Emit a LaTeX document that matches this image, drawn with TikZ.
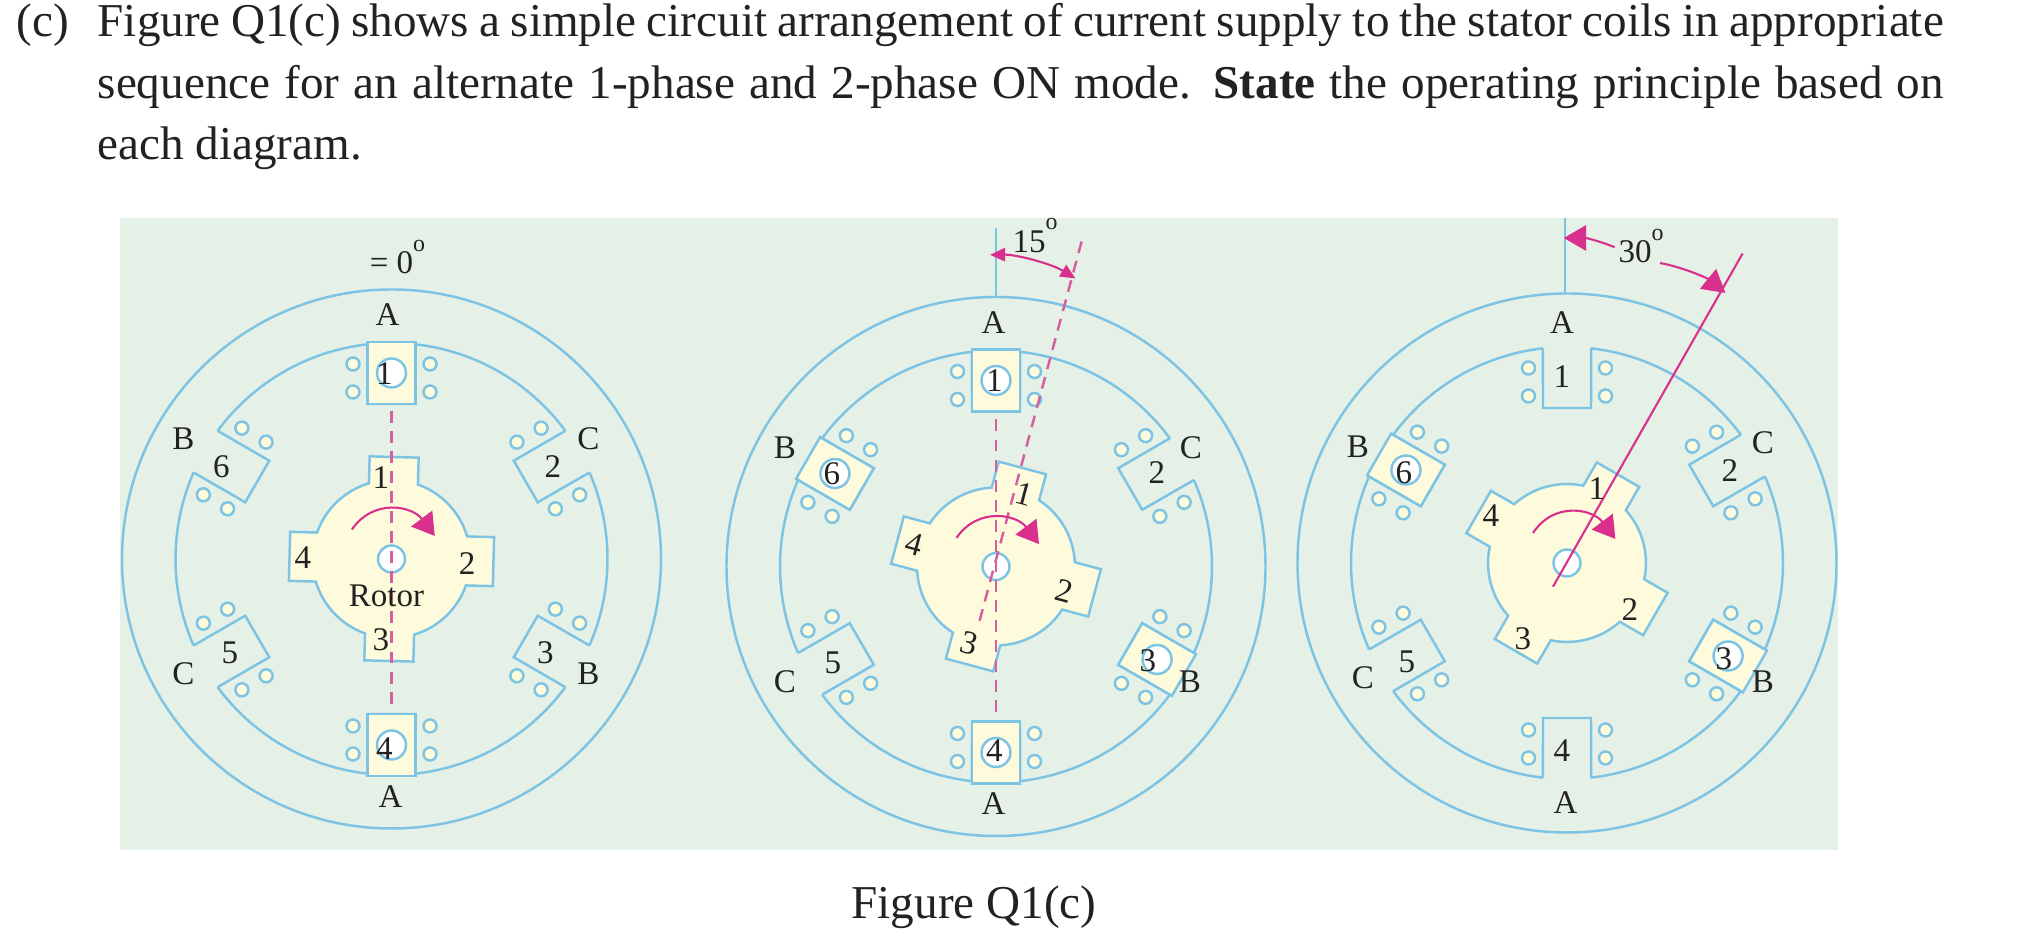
\documentclass[tikz,border=0pt]{standalone}
\usepackage{fontspec}
\setmainfont{Liberation Serif}
\usetikzlibrary{arrows.meta}

\definecolor{panelgreen}{HTML}{E5F0E6}
\definecolor{statorblue}{HTML}{7DC3E4}
\definecolor{polecream}{HTML}{FDFBDB}
\definecolor{markpink}{HTML}{D9308D}
\definecolor{dashpink}{HTML}{D6609F}
\definecolor{inkgray}{HTML}{222222}

\tikzset{
  bodytext/.style={anchor=base west,inner sep=0pt,text=inkgray,font=\fontsize{13.4}{16}\selectfont},
  partlabel/.style={inner sep=0pt,text=inkgray,font=\fontsize{9.4}{11}\selectfont},
  statorline/.style={draw=statorblue,line width=0.7pt},
  polefill/.style={statorline,fill=polecream},
  rotorarrow/.style={draw=markpink,line width=0.6pt,-{Triangle[length=6.2pt,width=7.4pt]}},
  smallangle/.style={draw=markpink,line width=0.6pt,{Triangle[length=4.3pt,width=3.8pt]}-{Triangle[length=4.3pt,width=3.8pt]}},
  bigangle/.style={draw=markpink,line width=0.6pt,-{Triangle[length=6.4pt,width=7.2pt]}},
  pinkdash/.style={draw=dashpink,line width=0.7pt,dash pattern=on 3.4pt off 2.3pt},
  pinksolid/.style={draw=markpink,line width=0.6pt}
}

\newcommand{\degmark}{\raisebox{6.5pt}{\fontsize{6.8}{8}\selectfont o}}

% #1 = poles that carry current
\newcommand{\statorpart}[1]{
  \draw[statorline] (0,0) circle[radius=269.5];
  \foreach \p in {90,30,-30,-90,-150,150} {
    \draw[statorline,rotate=\p] (6.4:216) -- (155,24) -- (155,-24) -- (-6.4:216);
    \draw[statorline,rotate=\p] (6.4:216) arc[start angle=6.4,end angle=53.6,radius=216];
    \foreach \r/\s in {195/38.5,167/38.5,195/-38.5,167/-38.5}
      \draw[statorline,fill=polecream,rotate=\p] (\r,\s) circle[radius=6.5];
  }
  \foreach \p in {#1} {
    \draw[polefill,rotate=\p] (217,24) -- (155,24) -- (155,-24) -- (217,-24) -- cycle;
    \draw[statorline,fill=white,rotate=\p] (186,0) circle[radius=14.5];
  }
}

% #1 = rotor angle
\newcommand{\rotorpart}[1]{
  \draw[polefill,rotate=#1] (75.1,24.5) -- (102,24.5) -- (102,-24.5) -- (75.1,-24.5)
    arc[start angle=-18.1,end angle=-71.9,radius=79] -- (24.5,-102) -- (-24.5,-102) -- (-24.5,-75.1)
    arc[start angle=-108.1,end angle=-161.9,radius=79] -- (-102,-24.5) -- (-102,24.5) -- (-75.1,24.5)
    arc[start angle=161.9,end angle=108.1,radius=79] -- (-24.5,102) -- (24.5,102) -- (24.5,75.1)
    arc[start angle=71.9,end angle=18.1,radius=79] -- cycle;
  \draw[statorline,fill=white] (0,0) circle[radius=13.5];
}

\begin{document}
\begin{tikzpicture}[x=0.01cm,y=0.01cm]
  \useasboundingbox (0,0) rectangle (2020,940);
  \fill[white] (0,0) rectangle (2020,940);

  \node[bodytext] (tag) at (16,903) {(c)};
  \node[bodytext] (line1) at (97,903) {\makebox[18.45cm][s]{Figure Q1(c) shows a simple circuit arrangement of current supply to the stator coils in appropriate}};
  \node[bodytext] (line2) at (97,841) {\makebox[18.45cm][s]{sequence for an alternate 1-phase and 2-phase ON mode. \textbf{State} the operating principle based on}};
  \node[bodytext] (line3) at (97,780) {each diagram.};

  \fill[panelgreen] (120,90) rectangle (1838,722);

  \node[bodytext,anchor=base] (caption) at (974,21) {Figure Q1(c)};

  % rotor at 0
  \begin{scope}[shift={(391.5,381)}]
    \statorpart{90,-90}
    \rotorpart{-1.5}
    \draw[pinkdash] (0,148) -- (0,-145);
    \draw[rotorarrow] (-39.6,29.5) .. controls (-18,61) and (20.7,53) .. (43.3,23);
    \foreach \nx/\ny/\lab/\nm in {-4/244/A/atop,-1/-238/A/abot,-208/120/B/bleft,197/120/C/cright,
        -208/-114.5/C/cleft,197/-114.5/B/bright,-7/185/1/s1,-7/-190/4/s4,161.5/92.5/2/s2,
        154/-94/3/s3,-161.5/-94/5/s5,-170/92.5/6/s6,-10.5/81/1/r1,75.6/-4.5/2/r2,
        -10.5/-80.5/3/r3,-88.7/1/4/r4,-5/-37/Rotor/rname}
      \node[partlabel] (one\nm) at (\nx,\ny) {\lab};
    \node[partlabel] (onedeg) at (6,302) {= 0\degmark};
  \end{scope}

  % rotor at 15
  \begin{scope}[shift={(996,373.5)}]
    \statorpart{90,-90,150,-30}
    \rotorpart{-15}
    \draw[statorline] (0,338) -- (0,270);
    \draw[pinkdash] (0,147) -- (0,-146);
    \draw[pinkdash] (85.6,325) -- (-17,-56.4);
    \draw[smallangle] (-6,311.6) .. controls (20,312) and (55,303) .. (79.5,288);
    \draw[rotorarrow] (-39.5,28.6) .. controls (-18,60) and (20.7,52) .. (43,22.4);
    \foreach \nx/\ny/\lab/\nm in {-2.4/243.6/A/atop,-2.4/-237/A/abot,-211/119/B/bleft,195/119/C/cright,
        -211/-115/C/cleft,194/-115/B/bright,-1.6/186/1/s1,-1.6/-184/4/s4,161/94/2/s2,
        152/-94/3/s3,-163/-96/5/s5,-164/93/6/s6}
      \node[partlabel] (two\nm) at (\nx,\ny) {\lab};
    \foreach \nx/\ny/\lab/\nm in {28.5/72/1/r1,68.5/-25/2/r2,-27/-77/3/r3,-82/22.4/4/r4}
      \node[partlabel,rotate=-15] (two\nm) at (\nx,\ny) {\lab};
    \node[partlabel] (twodeg) at (39,331) {15\degmark};
  \end{scope}

  % rotor at 30
  \begin{scope}[shift={(1567,377)}]
    \statorpart{150,-30}
    \rotorpart{-30}
    \draw[statorline] (-2,345) -- (-2,270);
    \draw[pinksolid] (175.6,309.5) -- (-14,-23.7);
    \draw[bigangle] (47.6,315.8) .. controls (35,321) and (20,325) .. (-3.3,325);
    \draw[bigangle] (93,300) .. controls (115,296) and (140,285) .. (158.5,270);
    \draw[rotorarrow] (-34,30) .. controls (-13,62) and (25.7,54) .. (48.4,24);
    \foreach \nx/\ny/\lab/\nm in {-5/240/A/atop,-1.5/-240/A/abot,-209/116/B/bleft,196/120/C/cright,
        -204/-115/C/cleft,196/-119/B/bright,-5/186/1/s1,-5/-187.5/4/s4,163/92/2/s2,
        157/-96/3/s3,-160/-99/5/s5,-163/90/6/s6,30/74/1/r1,63/-47/2/r2,-44/-76/3/r3,-76/47/4/r4}
      \node[partlabel] (three\nm) at (\nx,\ny) {\lab};
    \node[partlabel] (threedeg) at (74,317) {30\degmark};
  \end{scope}
\end{tikzpicture}
\end{document}
